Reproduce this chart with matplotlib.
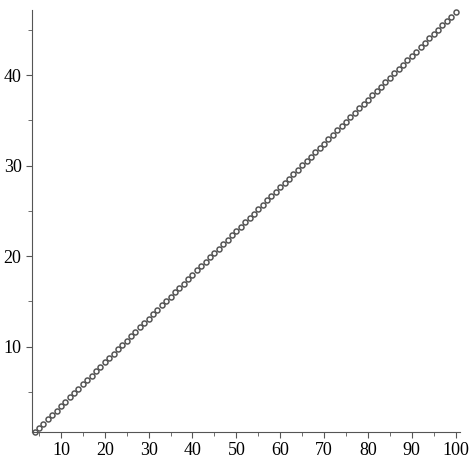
import matplotlib
matplotlib.use("Agg")
import matplotlib.pyplot as plt
from matplotlib.ticker import MultipleLocator

x = list(range(4, 101))
y = [0.5, 0.98, 1.47, 1.95, 2.44, 2.92, 3.40, 3.89, 4.37, 4.86, 5.34, 5.82, 6.31, 6.79, 7.28, 7.76,
     8.24, 8.73, 9.21, 9.70, 10.18, 10.66, 11.15, 11.63, 12.12, 12.60, 13.08, 13.57, 14.05, 14.54,
     15.02, 15.50, 15.99, 16.47, 16.96, 17.44, 17.92, 18.41, 18.89, 19.38, 19.86, 20.34, 20.83,
     21.31, 21.80, 22.28, 22.76, 23.25, 23.73, 24.22, 24.70, 25.18, 25.67, 26.15, 26.64, 27.12,
     27.60, 28.09, 28.57, 29.06, 29.54, 30.02, 30.51, 30.99, 31.48, 31.96, 32.44, 32.93, 33.41,
     33.90, 34.38, 34.86, 35.35, 35.83, 36.32, 36.80, 37.28, 37.77, 38.25, 38.74, 39.22, 39.70,
     40.19, 40.67, 41.16, 41.64, 42.12, 42.61, 43.09, 43.58, 44.06, 44.54, 45.03, 45.51, 46.00,
     46.48, 46.96]

plt.rcParams['font.family'] = ['Liberation Serif', 'DejaVu Serif']
fig = plt.figure(figsize=(4.74, 4.74), dpi=100)
ax = fig.add_axes([32/474, 42/474, 428/474, 422/474])
ax.plot(x, y, linestyle='none', marker='o', markersize=3.6, markerfacecolor='none',
        markeredgecolor='#555555', markeredgewidth=1.1, clip_on=False)
ax.set_xlim(3.4, 101)
ax.set_ylim(0.55, 47.2)
for s in ['top', 'right']:
    ax.spines[s].set_visible(False)
for s in ['left', 'bottom']:
    ax.spines[s].set_color('#555555')
ax.xaxis.set_major_locator(MultipleLocator(10))
ax.xaxis.set_minor_locator(MultipleLocator(5))
ax.yaxis.set_major_locator(MultipleLocator(10))
ax.yaxis.set_minor_locator(MultipleLocator(5))
ax.tick_params(which='both', direction='out', color='#555555', labelsize=13)
ax.tick_params(which='major', length=4)
ax.tick_params(which='minor', length=3)
fig.savefig('out.png', dpi=100)
